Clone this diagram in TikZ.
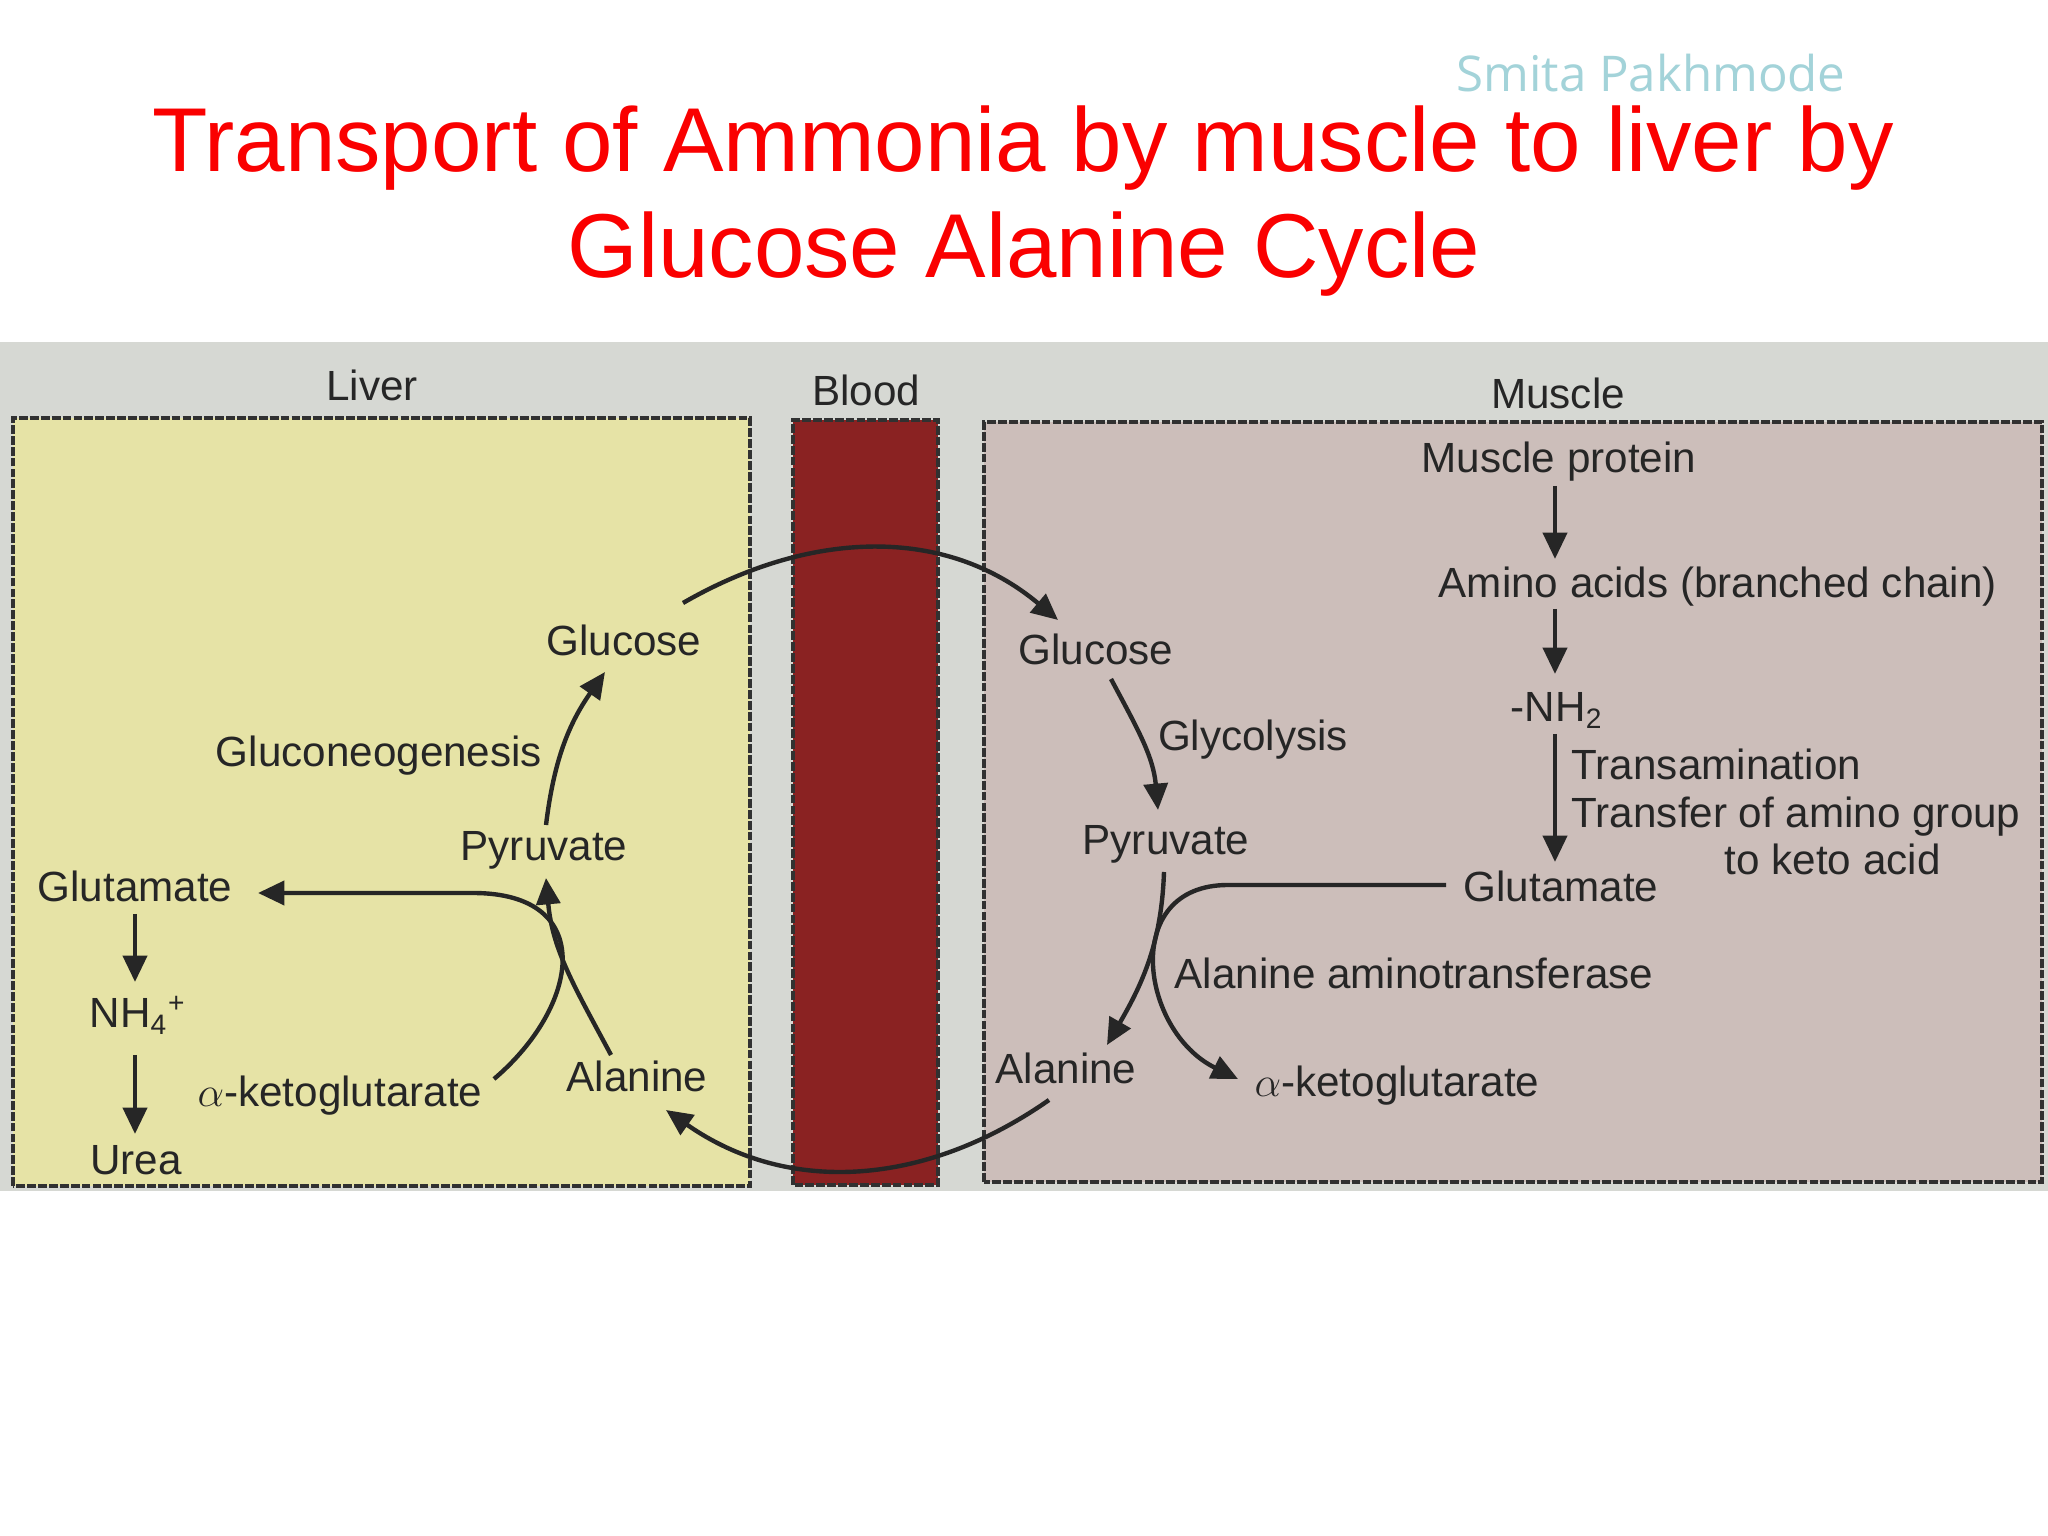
\documentclass[tikz,border=0pt]{standalone}
\usepackage{fontspec}
\setmainfont{Liberation Sans}
\newfontfamily\wmfont{Open Sans}
\usetikzlibrary{arrows.meta,calc}
\definecolor{ink}{RGB}{38,38,38}
\definecolor{strip}{RGB}{214,216,211}
\definecolor{liverfill}{RGB}{230,227,166}
\definecolor{bloodfill}{RGB}{138,34,34}
\definecolor{musclefill}{RGB}{204,190,186}
\definecolor{wm}{RGB}{163,211,217}
\definecolor{titlered}{RGB}{250,0,0}
\begin{document}
\begin{tikzpicture}[x=0.01cm,y=0.01cm,
  lbl/.style={font=\fontsize{12}{14}\selectfont, text=ink, inner sep=0pt, anchor=base},
  lblw/.style={lbl, anchor=base west},
  head/.style={font=\fontsize{12}{14}\selectfont, text=ink, inner sep=0pt, anchor=base},
  titletext/.style={font=\fontsize{25.8}{30}\selectfont, text=titlered, inner sep=0pt, anchor=base},
  arr/.style={draw=ink, line width=1.25pt, -{Triangle[length=7.5pt,width=6.8pt]}},
  boxline/.style={draw=ink!95, line width=0.9pt, dash pattern=on 2.5pt off 0.6pt}
]
\useasboundingbox (0,0) rectangle (2048,1536);
\fill[white] (0,0) rectangle (2048,1536);
\fill[strip] (0,345) rectangle (2048,1194);
% compartments
\filldraw[fill=liverfill, boxline] (13,350) rectangle (750,1118);
\filldraw[fill=bloodfill, boxline] (793,351) rectangle (938,1116);
\filldraw[fill=musclefill, boxline] (984,354) rectangle (2042,1114);

% title and watermark
\node[font=\wmfont\fontsize{14}{16}\selectfont, text=wm, inner sep=0pt, anchor=base] (wmark) at (1651,1444) {Smita Pakhmode};
\node[titletext] (title1) at (1023,1364) {Transport of Ammonia by muscle to liver by};
\node[titletext] (title2) at (1024,1258) {Glucose Alanine Cycle};

% headings
\node[head] (hliver) at (372,1135) {Liver};
\node[head] (hblood) at (866,1130) {Blood};
\node[head] (hmuscle) at (1558,1127) {Muscle};

% liver
\node[lbl] (lglc) at (624,880) {Glucose};
\node[lbl] (lgng) at (379,769) {Gluconeogenesis};
\node[lbl] (lpyr) at (544,675) {Pyruvate};
\node[lbl] (lglu) at (135,634) {Glutamate};
\node[lblw] (lnh) at (89,508) {NH\textsubscript{4}\textsuperscript{+}};
\node[lbl] (lurea) at (136,361) {Urea};
\node[lblw] (lakg) at (197,429) {$\alpha$-ketoglutarate};
\node[lbl] (lala) at (637,444) {Alanine};

% muscle
\node[lbl] (mglc) at (1096,871) {Glucose};
\node[lbl] (mgly) at (1253,785) {Glycolysis};
\node[lbl] (mpyr) at (1166,681) {Pyruvate};
\node[lblw] (mglu) at (1463,634) {Glutamate};
\node[lbl] (malt) at (1414,547) {Alanine aminotransferase};
\node[lbl] (mala) at (1066,452) {Alanine};
\node[lblw] (makg) at (1254,439) {$\alpha$-ketoglutarate};
\node[lbl] (mprot) at (1559,1063) {Muscle protein};
\node[lblw] (mamino) at (1438,938) {Amino acids (branched chain)};
\node[lbl] (mnh) at (1557,814) {-NH\textsubscript{2}};
\node[lblw] (mtrans) at (1571,756) {Transamination};
\node[lblw] (mtransfer) at (1571,708) {Transfer of amino group};
\node[lblw] (mketo) at (1724,661) {to keto acid};

% liver arrows
\draw[arr] ($(lpyr.base)+(2,36)$) to[out=83,in=235] ($(lglc.base)+(-19,-16)$);
\draw[arr] ($(lglu.base)+(0,-12)$) -- ($(lnh.base west)+(46,46)$);
\draw[arr] ($(lnh.base west)+(46,-27)$) -- ($(lurea.base)+(-1,41)$);
\draw[arr] ($(lakg.base east)+(11,28)$) .. controls +(86,73) and +(125,0) .. ($(lglu.base east)+(240,9)$) -- ($(lglu.base east)+(25,9)$);
\draw[arr] ($(lala.base)+(-26,37)$) to[out=118,in=-85] ($(lpyr.base)+(2,-17)$);

% blood crossings
\draw[arr] ($(lglc.base)+(59,53)$) to[out=30,in=140] ($(mglc.base)+(-38,45)$);
\draw[arr] ($(mala.base)+(-17,-16)$) to[out=215,in=325] ($(lala.base)+(29,-18)$);

% muscle arrows
\draw[arr] ($(mglc.base)+(15,-14)$) to[out=-62,in=95] ($(mpyr.base)+(-8,45)$);
\draw[arr] ($(mpyr.base)+(-2,-17)$) to[out=-92,in=60] ($(mala.base)+(41,39)$);
\draw[arr] ($(mglu.base west)+(-17,17)$) -- ($(mglu.base west)+(-235,17)$) .. controls +(-108,0) and +(-98,48) .. ($(makg.base west)+(-16,18)$);
\draw[arr] ($(mprot.base)+(-4,-13)$) -- ($(mamino.base west)+(117,39)$);
\draw[arr] ($(mamino.base west)+(117,-11)$) -- ($(mnh.base)+(-2,48)$);
\draw[arr] ($(mnh.base)+(-2,-12)$) -- ($(mglu.base west)+(92,40)$);
\end{tikzpicture}
\end{document}
